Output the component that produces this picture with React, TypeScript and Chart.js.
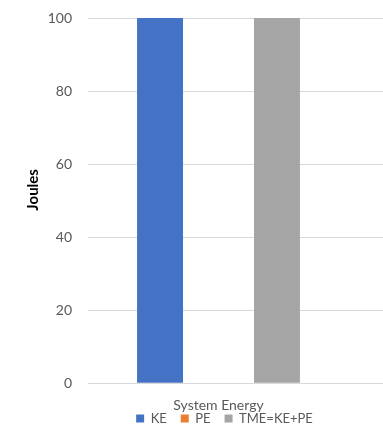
import React, { useEffect, useRef } from "react";
import { Chart, registerables } from "chart.js";

Chart.register(...registerables);

const categories = ["System Energy"];
const seriesNames = ["KE", "PE", "TME=KE+PE"];
const keValues = [100];
const peValues = [0];
const tmeValues = [100];
const seriesColors = ["#4472C4", "#ED7D31", "#A5A5A5"];
const yTicks = [0, 20, 40, 60, 80, 100];
const yTitle = "Joules";

const FONT = "Lato, 'Liberation Sans', sans-serif";
const LEGEND_SHIFT_X = 50;
const LEGEND_SHIFT_Y = -22;

const layoutTweaks = {
  id: "layoutTweaks",
  afterLayout(chart: any) {
    const lg = chart.legend;
    if (lg) {
      lg.left += LEGEND_SHIFT_X;
      lg.right += LEGEND_SHIFT_X;
      lg.top += LEGEND_SHIFT_Y;
      lg.bottom += LEGEND_SHIFT_Y;
    }
  },
  beforeDatasetsDraw(chart: any) {
    const { ctx, chartArea, scales, width } = chart;
    const y = scales.y;
    ctx.save();
    ctx.strokeStyle = "#D9D9D9";
    ctx.lineWidth = 1;
    for (const t of yTicks) {
      const py = Math.round(y.getPixelForValue(t) - 0.5) + 0.5;
      ctx.beginPath();
      ctx.moveTo(chartArea.right, py);
      ctx.lineTo(width, py);
      ctx.stroke();
    }
    ctx.restore();
  },
};

export default function App() {
  const ref = useRef<HTMLCanvasElement>(null);
  useEffect(() => {
    if (!ref.current) return;
    const values = [keValues, peValues, tmeValues];
    const chart = new Chart(ref.current, {
      type: "bar",
      data: {
        labels: categories,
        datasets: seriesNames.map((name, i) => ({
          label: name,
          data: values[i],
          backgroundColor: seriesColors[i],
          borderWidth: 0,
          categoryPercentage: 0.672,
          barPercentage: 0.786,
        })),
      },
      options: {
        animation: false,
        responsive: false,
        maintainAspectRatio: false,
        layout: { padding: { top: 18, right: 34, bottom: -12, left: 0 } },
        plugins: {
          tooltip: { enabled: false },
          legend: {
            position: "bottom",
            labels: {
              boxWidth: 8,
              boxHeight: 8,
              color: "#595959",
              font: { family: FONT, size: 13 },
              padding: 14,
            },
          },
        },
        scales: {
          x: {
            grid: { display: false },
            border: { display: false },
            ticks: {
              color: "#595959",
              font: { family: FONT, size: 14 },
              padding: 6,
            },
          },
          y: {
            min: 0,
            max: 100,
            afterBuildTicks: (scale: any) => {
              scale.ticks = yTicks.map((v) => ({ value: v }));
            },
            afterFit: (scale: any) => {
              scale.width = 88;
              scale.paddingTop = 0;
              scale.paddingBottom = 0;
            },
            grid: { color: "#D9D9D9", drawTicks: false },
            border: { display: false },
            ticks: {
              color: "#595959",
              font: { family: FONT, size: 14 },
              padding: 16,
            },
            title: {
              display: true,
              text: "\u00A0\u00A0\u00A0\u00A0\u00A0\u00A0" + yTitle,
              color: "#000000",
              font: { family: FONT, size: 15, weight: "bold" },
              padding: { top: 24, bottom: 0 },
            },
          },
        },
      },
      plugins: [layoutTweaks],
    });
    return () => chart.destroy();
  }, []);
  return (
    <div style={{ position: "fixed", left: 0, top: 0, width: 383, height: 445, background: "#fff" }}>
      <canvas ref={ref} width={383} height={445} style={{ display: "block" }} />
    </div>
  );
}
